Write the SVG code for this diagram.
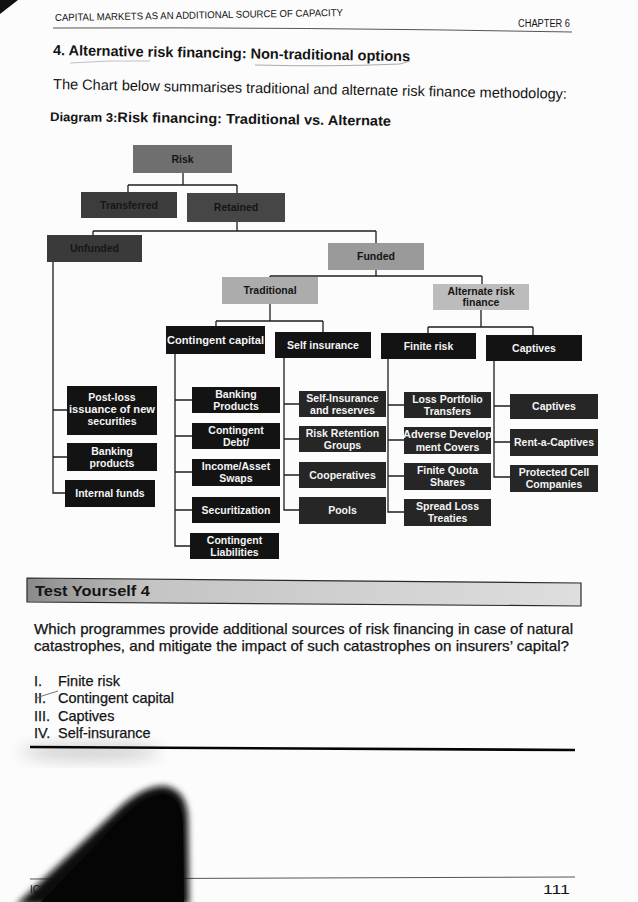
<svg xmlns="http://www.w3.org/2000/svg" width="638" height="902" viewBox="0 0 638 902">
<style>
.t{font-family:"Liberation Sans",Arial,sans-serif;fill:#141414}
.b{font-weight:bold}
.nd{font-family:"Liberation Sans",Arial,sans-serif;font-weight:bold;font-size:10.5px;text-anchor:middle}
.w{fill:#f4f4f4}
.k{fill:#151515}
.blk{fill:#131313}
.dk{fill:#262626}
.cn{fill:none;stroke:#1e1e1e;stroke-width:1.3}
</style>
<defs>
<linearGradient id="tyg" x1="0" y1="0" x2="1" y2="0">
<stop offset="0" stop-color="#8a8a8a"/>
<stop offset="0.22" stop-color="#c4c4c4"/>
<stop offset="1" stop-color="#dedede"/>
</linearGradient>
<filter id="blur" x="-20%" y="-20%" width="140%" height="140%"><feGaussianBlur stdDeviation="3"/></filter>
<filter id="blur2" x="-50%" y="-50%" width="200%" height="200%"><feGaussianBlur stdDeviation="8"/></filter>
</defs>
<rect x="0" y="0" width="638" height="902" fill="#fcfcfc"/>
<polygon points="0,0 18,0 0,14" fill="#111"/>

<!-- header -->
<g id="header">
<text class="t" x="55" y="21" font-size="10" textLength="288" lengthAdjust="spacingAndGlyphs" transform="rotate(-1 55 21)">CAPITAL MARKETS AS AN ADDITIONAL SOURCE OF CAPACITY</text>
<text class="t" x="518" y="27" font-size="10" textLength="52" lengthAdjust="spacingAndGlyphs">CHAPTER 6</text>
<path d="M53 28 Q 300 27 572 32" fill="none" stroke="#555" stroke-width="1"/>
<text class="t b" x="53" y="55" font-size="14.5" textLength="357" lengthAdjust="spacingAndGlyphs" transform="rotate(1 53 55)">4. Alternative risk financing: Non-traditional options</text>
<path d="M70 63 Q 110 60 150 61" fill="none" stroke="#999" stroke-width="1" opacity="0.6"/>
<path d="M255 65 Q 330 67 400 64 L 410 61" fill="none" stroke="#888" stroke-width="1" opacity="0.7"/>
<text class="t" x="53" y="89" font-size="14.5" textLength="514" lengthAdjust="spacingAndGlyphs" transform="rotate(1.1 53 89)">The Chart below summarises traditional and alternate risk finance methodology:</text>
<text class="t b" x="50" y="121" font-size="14" textLength="341" lengthAdjust="spacingAndGlyphs" transform="rotate(0.8 50 121)"><tspan font-size="12.5">Diagram 3:</tspan>Risk financing: Traditional vs. Alternate</text>
</g>

<!-- connectors -->
<g id="connectors">
<path class="cn" d="M183 173 V185 M128 185 H237 M128 185 V192 M237 185 V193"/>
<path class="cn" d="M237 222 V231 M93 231 H376 M93 231 V235 M376 231 V243"/>
<path class="cn" d="M376 270 V276 M270 276 H482 M270 276 V277 M482 276 V284"/>
<path class="cn" d="M270 304 V321 M216 321 H323 M216 321 V326 M323 321 V332"/>
<path class="cn" d="M481 310 V327 M428 327 H533 M428 327 V333 M533 327 V335"/>
<path class="cn" d="M53 262 V493 H65 M53 410 H67 M53 457 H67"/>
<path class="cn" d="M175 354 V546 H190 M175 400 H192 M175 436 H192 M175 472 H192 M175 510 H192"/>
<path class="cn" d="M284 358 V510 H299 M284 404 H299 M284 439 H299 M284 475 H299"/>
<path class="cn" d="M388 359 V512 H404 M388 405 H404 M388 440 H404 M388 476 H404"/>
<path class="cn" d="M494 361 V477 H510 M494 406 H510 M494 442 H510"/>
</g>

<!-- level 0-2 -->
<g id="n-risk"><rect x="133" y="145" width="99" height="28" fill="#6f6f6f"/><text class="nd k" x="182.5" y="163">Risk</text></g>
<g id="n-transferred"><rect x="81" y="192" width="96" height="26" fill="#3c3c3c"/><text class="nd" fill="#161616" x="129" y="209">Transferred</text></g>
<g id="n-retained"><rect x="187" y="193" width="98" height="29" fill="#464646"/><text class="nd k" x="236" y="211">Retained</text></g>
<g id="n-unfunded"><rect x="47" y="235" width="95" height="27" fill="#3a3a3a"/><text class="nd" fill="#161616" x="94.5" y="252">Unfunded</text></g>
<g id="n-funded"><rect x="328" y="243" width="96" height="27" fill="#9a9a9a"/><text class="nd k" x="376" y="260">Funded</text></g>
<g id="n-traditional"><rect x="222" y="277" width="96" height="27" fill="#acacac"/><text class="nd k" x="270" y="294">Traditional</text></g>
<g id="n-alternate"><rect x="433" y="284" width="96" height="26" fill="#bcbcbc"/><text class="nd k" x="481" y="295">Alternate risk</text><text class="nd k" x="481" y="306">finance</text></g>

<g id="n-contingent-capital"><rect class="blk" x="166" y="326" width="99" height="28"/><text class="nd w" x="215.5" y="344" textLength="97" lengthAdjust="spacingAndGlyphs">Contingent capital</text></g>
<g id="n-self-insurance"><rect class="blk" x="275" y="332" width="96" height="26"/><text class="nd w" x="323" y="349">Self insurance</text></g>
<g id="n-finite-risk"><rect class="blk" x="381" y="333" width="95" height="26"/><text class="nd w" x="428.5" y="350">Finite risk</text></g>
<g id="n-captives"><rect class="blk" x="486" y="335" width="96" height="26"/><text class="nd w" x="534" y="352">Captives</text></g>

<!-- unfunded children -->
<g id="n-post-loss"><rect class="blk" x="67" y="386" width="90" height="49"/><text class="nd w" x="112" y="401">Post-loss</text><text class="nd w" x="112" y="413" textLength="86" lengthAdjust="spacingAndGlyphs">issuance of new</text><text class="nd w" x="112" y="425">securities</text></g>
<g id="n-banking-products-u"><rect class="blk" x="67" y="443" width="90" height="28"/><text class="nd w" x="112" y="455">Banking</text><text class="nd w" x="112" y="467">products</text></g>
<g id="n-internal-funds"><rect class="blk" x="65" y="480" width="90" height="27"/><text class="nd w" x="110" y="497">Internal funds</text></g>

<!-- contingent capital children -->
<g id="n-banking-products"><rect class="blk" x="192" y="387" width="88" height="26"/><text class="nd w" x="236" y="398">Banking</text><text class="nd w" x="236" y="410">Products</text></g>
<g id="n-contingent-debt"><rect class="blk" x="192" y="423" width="88" height="26"/><text class="nd w" x="236" y="434">Contingent</text><text class="nd w" x="236" y="446">Debt/</text></g>
<g id="n-income-asset"><rect class="blk" x="192" y="459" width="88" height="27"/><text class="nd w" x="236" y="470">Income/Asset</text><text class="nd w" x="236" y="482">Swaps</text></g>
<g id="n-securitization"><rect class="blk" x="192" y="497" width="88" height="26"/><text class="nd w" x="236" y="514">Securitization</text></g>
<g id="n-contingent-liabilities"><rect class="blk" x="190" y="533" width="89" height="26"/><text class="nd w" x="234.5" y="544">Contingent</text><text class="nd w" x="234.5" y="556">Liabilities</text></g>

<!-- self insurance children -->
<g id="n-self-ins-reserves"><rect class="dk" x="299" y="391" width="87" height="26"/><text class="nd w" x="342.5" y="402">Self-Insurance</text><text class="nd w" x="342.5" y="414">and reserves</text></g>
<g id="n-rrg"><rect class="dk" x="299" y="426" width="87" height="26"/><text class="nd w" x="342.5" y="437">Risk Retention</text><text class="nd w" x="342.5" y="449">Groups</text></g>
<g id="n-cooperatives"><rect class="dk" x="299" y="462" width="87" height="26"/><text class="nd w" x="342.5" y="479">Cooperatives</text></g>
<g id="n-pools"><rect class="dk" x="299" y="497" width="87" height="27"/><text class="nd w" x="342.5" y="514">Pools</text></g>

<!-- finite risk children -->
<g id="n-lpt"><rect class="dk" x="404" y="392" width="87" height="26"/><text class="nd w" x="447.5" y="403">Loss Portfolio</text><text class="nd w" x="447.5" y="415">Transfers</text></g>
<g id="n-adc"><rect class="dk" x="404" y="427" width="87" height="27"/><text class="nd w" x="447.5" y="438" textLength="89" lengthAdjust="spacingAndGlyphs">Adverse Develop</text><text class="nd w" x="447.5" y="451">ment Covers</text></g>
<g id="n-fqs"><rect class="dk" x="404" y="463" width="87" height="27"/><text class="nd w" x="447.5" y="474">Finite Quota</text><text class="nd w" x="447.5" y="486">Shares</text></g>
<g id="n-slt"><rect class="dk" x="404" y="499" width="87" height="27"/><text class="nd w" x="447.5" y="510">Spread Loss</text><text class="nd w" x="447.5" y="522">Treaties</text></g>

<!-- captives children -->
<g id="n-captives-2"><rect class="dk" x="510" y="394" width="88" height="25"/><text class="nd w" x="554" y="410">Captives</text></g>
<g id="n-rent-a-captives"><rect class="dk" x="510" y="429" width="88" height="27"/><text class="nd w" x="554" y="446">Rent-a-Captives</text></g>
<g id="n-pcc"><rect class="dk" x="510" y="465" width="88" height="27"/><text class="nd w" x="554" y="476">Protected Cell</text><text class="nd w" x="554" y="488">Companies</text></g>

<!-- test yourself -->
<g id="test-yourself">
<polygon points="27,578 581,583 581,606 27,602" fill="url(#tyg)" stroke="#2a2a2a" stroke-width="1.2"/>
<text class="t b" x="35" y="596" font-size="15" textLength="115" lengthAdjust="spacingAndGlyphs">Test Yourself 4</text>
<text class="t" x="34" y="634" font-size="14.5" textLength="539" lengthAdjust="spacingAndGlyphs" stroke="#141414" stroke-width="0.25">Which programmes provide additional sources of risk financing in case of natural</text>
<text class="t" x="34" y="651" font-size="14.5" textLength="535" lengthAdjust="spacingAndGlyphs" stroke="#141414" stroke-width="0.25">catastrophes, and mitigate the impact of such catastrophes on insurers’ capital?</text>
<g font-size="14.5" stroke="#141414" stroke-width="0.25">
<text class="t" x="34" y="686">I.</text><text class="t" x="58" y="686">Finite risk</text>
<text class="t" x="34" y="703">II.</text><text class="t" x="58" y="703">Contingent capital</text>
<text class="t" x="34" y="721">III.</text><text class="t" x="58" y="721">Captives</text>
<text class="t" x="34" y="738">IV.</text><text class="t" x="58" y="738">Self-insurance</text>
</g>
<path d="M35 699 L42 696 L58 691" fill="none" stroke="#666" stroke-width="0.9"/>
<ellipse cx="90" cy="752" rx="70" ry="8" fill="#777" opacity="0.35" filter="url(#blur2)"/>
<path d="M30 747 L 575 750" stroke="#050505" stroke-width="2.6"/>
</g>

<!-- footer -->
<g id="footer">
<path d="M30 879 L 575 877" stroke="#555" stroke-width="1"/>
<text class="t" x="30" y="893" font-size="10">IC</text>
<text class="t" x="543" y="894" font-size="13" textLength="27" lengthAdjust="spacingAndGlyphs">111</text>
</g>

<!-- finger in photo -->
<path d="M16 905 L 112 815 Q 140 786 164 786 Q 188 789 188 822 L 189 905 Z" fill="#0b0b0b" filter="url(#blur)"/>
<path d="M38 905 L 118 822 Q 144 795 164 794 Q 182 797 183 826 L 184 905 Z" fill="#050505"/>
</svg>
